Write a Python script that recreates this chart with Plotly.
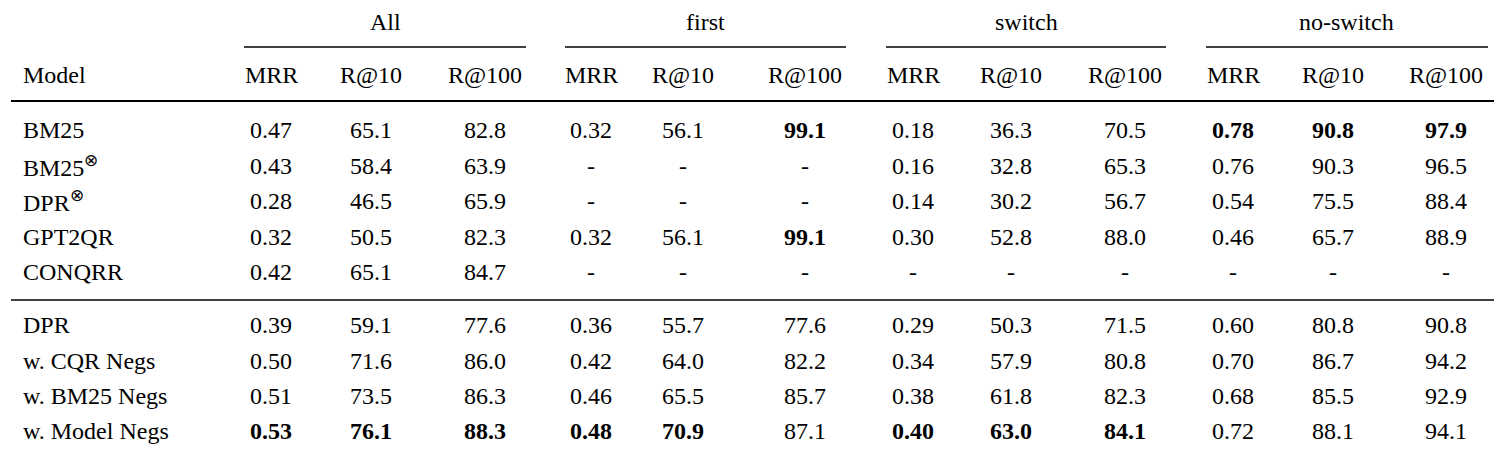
import plotly.graph_objects as go

groups = ["All", "first", "switch", "no-switch"]
metrics = ["MRR", "R@10", "R@100"]
models = ["BM25", "BM25<sup>⊗</sup>", "DPR<sup>⊗</sup>", "GPT2QR", "CONQRR",
          "DPR", "w. CQR Negs", "w. BM25 Negs", "w. Model Negs"]
all_vals = [["0.47","65.1","82.8"],["0.43","58.4","63.9"],["0.28","46.5","65.9"],["0.32","50.5","82.3"],["0.42","65.1","84.7"],
            ["0.39","59.1","77.6"],["0.50","71.6","86.0"],["0.51","73.5","86.3"],["0.53","76.1","88.3"]]
first_vals = [["0.32","56.1","99.1"],["-","-","-"],["-","-","-"],["0.32","56.1","99.1"],["-","-","-"],
              ["0.36","55.7","77.6"],["0.42","64.0","82.2"],["0.46","65.5","85.7"],["0.48","70.9","87.1"]]
switch_vals = [["0.18","36.3","70.5"],["0.16","32.8","65.3"],["0.14","30.2","56.7"],["0.30","52.8","88.0"],["-","-","-"],
               ["0.29","50.3","71.5"],["0.34","57.9","80.8"],["0.38","61.8","82.3"],["0.40","63.0","84.1"]]
noswitch_vals = [["0.78","90.8","97.9"],["0.76","90.3","96.5"],["0.54","75.5","88.4"],["0.46","65.7","88.9"],["-","-","-"],
                 ["0.60","80.8","90.8"],["0.70","86.7","94.2"],["0.68","85.5","92.9"],["0.72","88.1","94.1"]]
# bold flags: (row, group, metric)
bold = {(0,1,2),(0,3,0),(0,3,1),(0,3,2),(3,1,2),
        (8,0,0),(8,0,1),(8,0,2),(8,1,0),(8,1,1),(8,2,0),(8,2,1),(8,2,2)}

# layout positions (pixels)
col_x = [[263,363,477],[583,675,797],[905,1003,1117],[1225,1325,1438]]
grp_x = [377, 697, 1018, 1338]
grp_rule = [(236,518),(557,838),(878,1158),(1198,1480)]
row_y = [122,158,193,229,264,317,353,388,423]
FONT = dict(family="Liberation Serif", size=24, color="black")

fig = go.Figure()
ann = []
for g, gx in zip(groups, grp_x):
    ann.append(dict(x=gx, y=14, text=g))
ann.append(dict(x=13, y=67, text="Model", xanchor="left"))
for gi in range(4):
    for mi, m in enumerate(metrics):
        ann.append(dict(x=col_x[gi][mi], y=67, text=m))
data = [all_vals, first_vals, switch_vals, noswitch_vals]
for ri, m in enumerate(models):
    ann.append(dict(x=13, y=row_y[ri], text=m, xanchor="left"))
    for gi in range(4):
        for mi in range(3):
            t = data[gi][ri][mi]
            if (ri, gi, mi) in bold:
                t = "<b>" + t + "</b>"
            ann.append(dict(x=col_x[gi][mi], y=row_y[ri], text=t))
for a in ann:
    a.setdefault("xanchor", "center")
    a.update(xref="x", yref="y", yanchor="middle", showarrow=False, font=FONT)

shapes = []
for (x0, x1) in grp_rule:
    shapes.append(dict(type="line", x0=x0, x1=x1, y0=39, y1=39, line=dict(color="black", width=1.3)))
shapes.append(dict(type="line", x0=3, x1=1499, y0=93, y1=93, line=dict(color="black", width=2)))
shapes.append(dict(type="line", x0=3, x1=1499, y0=292, y1=292, line=dict(color="black", width=1.5)))
shapes.append(dict(type="line", x0=3, x1=1499, y0=448, y1=448, line=dict(color="black", width=3)))

fig.update_layout(
    width=1502, height=453, margin=dict(l=0, r=0, t=0, b=0),
    paper_bgcolor="white", plot_bgcolor="white",
    xaxis=dict(range=[0,1502], visible=False, fixedrange=True),
    yaxis=dict(range=[453,0], visible=False, fixedrange=True),
    annotations=ann, shapes=shapes, showlegend=False,
)
fig.write_html("out.html")
